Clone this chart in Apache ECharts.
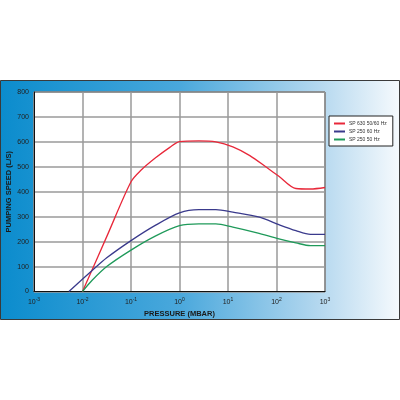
<!DOCTYPE html>
<html>
<head>
<meta charset="utf-8">
<script src="https://cdn.jsdelivr.net/npm/echarts@6/dist/echarts.min.js"></script>
<style>
  html, body { margin: 0; padding: 0; background: #fff; }
  #chart { width: 400px; height: 400px; }
</style>
</head>
<body>
<div id="chart"></div>
<script>
// series names
const seriesNames = ["SP 630 50/60 Hz", "SP 250 60 Hz", "SP 250 50 Hz"];
const seriesColors = ["#e8283a", "#3a3a8c", "#1f9a5a"];

// pressure (mbar) / pumping speed (L/s)
const sp630Pressure = [0.01, 0.0316, 0.1, 0.158, 0.316, 0.631, 1, 2.51, 5.62, 12.6, 28.2, 63.1, 112, 251, 501, 1000];
const sp630Speed    = [0, 220, 440, 485, 535, 578, 601, 604, 600, 580, 545, 497, 462, 413, 411, 417];

const sp250_60Pressure = [0.00525, 0.0158, 0.0316, 0.1, 0.316, 1, 2.51, 5.62, 12.6, 44.7, 112, 251, 501, 1000];
const sp250_60Speed    = [0, 84, 135, 204, 265, 315, 328, 328, 318, 298, 268, 244, 229, 229];

const sp250_50Pressure = [0.01, 0.0158, 0.0316, 0.1, 0.316, 1, 2.51, 5.62, 12.6, 39.8, 112, 251, 501, 1000];
const sp250_50Speed    = [0, 45, 100, 166, 222, 264, 271, 271, 258, 235, 211, 195, 184, 184];

const pairs = (xs, ys) => xs.map((x, i) => [x, ys[i]]);
const seriesData = [
  pairs(sp630Pressure, sp630Speed),
  pairs(sp250_60Pressure, sp250_60Speed),
  pairs(sp250_50Pressure, sp250_50Speed)
];

const chart = echarts.init(document.getElementById("chart"));
const font = "Liberation Sans, Arial, sans-serif";

const option = {
  animation: false,
  backgroundColor: "#ffffff",
  graphic: [
    {
      type: "rect",
      z: -10,
      shape: { x: 0.5, y: 80.5, width: 399, height: 239 },
      style: {
        fill: new echarts.graphic.LinearGradient(0, 0, 1, 0, [
          { offset: 0, color: "#0b8ccd" },
          { offset: 0.45, color: "#4aa8dc" },
          { offset: 0.8, color: "#b5d8ef" },
          { offset: 1, color: "#f6fafd" }
        ]),
        stroke: "#3a3a3a",
        lineWidth: 1
      }
    }
  ],
  grid: {
    left: 34, top: 92, right: 75, bottom: 108.5,
    outerBoundsMode: "none",
    containLabel: false,
    show: true,
    backgroundColor: "#ffffff",
    borderColor: "#111",
    borderWidth: 1
  },
  legend: {
    data: seriesNames,
    orient: "vertical",
    left: 329, top: 116,
    padding: [5, 6, 4, 5],
    itemGap: 3,
    itemWidth: 11,
    itemHeight: 2,
    icon: "rect",
    backgroundColor: "#ffffff",
    borderColor: "#222",
    borderWidth: 1,
    textStyle: { fontSize: 5, color: "#333", fontFamily: font, padding: [0, 0, 0, -1] }
  },
  xAxis: {
    type: "log",
    logBase: 10,
    min: 0.001,
    max: 1000,
    name: "PRESSURE (MBAR)",
    nameLocation: "middle",
    nameGap: 18,
    nameMoveOverlap: false,
    nameTextStyle: { fontSize: 7.5, fontWeight: "bold", color: "#1a1a1a", fontFamily: font },
    axisLine: { lineStyle: { color: "#111", width: 1 } },
    axisTick: { show: false },
    splitLine: { show: true, lineStyle: { color: "#9a9a9a", width: 1.5 } },
    axisLabel: {
      margin: 6,
      formatter: (v) => {
        const e = Math.round(Math.log10(v)).toString();
        return "{b|10}{s|" + e + "}";
      },
      rich: {
        b: { fontSize: 7, color: "#222", fontFamily: font },
        s: { fontSize: 5, color: "#222", fontFamily: font, padding: [0, 0, 4, 0] }
      }
    }
  },
  yAxis: {
    type: "value",
    min: 0,
    max: 800,
    interval: 100,
    name: "PUMPING SPEED (L/S)",
    nameLocation: "middle",
    nameGap: 21,
    nameMoveOverlap: false,
    nameRotate: 90,
    nameTextStyle: { fontSize: 7.5, fontWeight: "bold", color: "#1a1a1a", fontFamily: font },
    axisLine: { show: true, lineStyle: { color: "#111", width: 1 } },
    axisTick: { show: false },
    splitLine: { show: true, lineStyle: { color: "#9a9a9a", width: 1.5 } },
    axisLabel: { margin: 5, fontSize: 7, color: "#222", fontFamily: font }
  },
  series: seriesNames.map((name, i) => ({
    name: name,
    type: "line",
    data: seriesData[i],
    smooth: 0.3,
    showSymbol: false,
    symbol: "none",
    color: seriesColors[i],
    lineStyle: { width: 1.3, color: seriesColors[i] }
  }))
};

chart.setOption(option);
</script>
</body>
</html>
